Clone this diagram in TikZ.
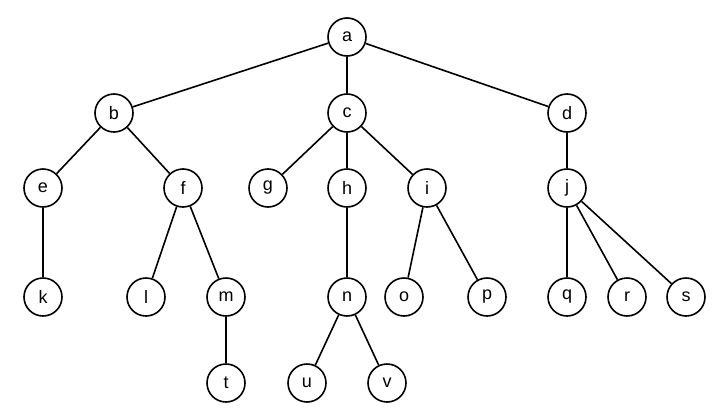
\documentclass[tikz,border=0pt]{standalone}
\usepackage{fontspec}
\setmainfont{Liberation Sans}
\begin{document}
\begin{tikzpicture}[x=1pt,y=-1pt,
  vtx/.style={circle,draw,line width=1.6pt,minimum size=38pt,inner sep=0pt,font=\fontsize{18}{20}\selectfont},
  edge/.style={line width=1.6pt}]
\useasboundingbox (0,0) rectangle (719,415);
\foreach \n/\x/\y in {a/347/37,b/114/113,c/347/113,d/567/113,e/43/188,f/183/188,g/268/188,h/347/188,i/427/188,j/567/188,k/43/297,l/146/297,m/226/297,n/347/297,o/404/297,p/487/297,q/567/297,r/627/297,s/686/297,t/226/383,u/307/383,v/387/383}
  \node[vtx] (\n) at (\x,\y) {\n};
\foreach \p/\c in {a/b,a/c,a/d,b/e,b/f,c/g,c/h,c/i,d/j,e/k,f/l,f/m,h/n,i/o,i/p,j/q,j/r,j/s,m/t,n/u,n/v}
  \draw[edge] (\p) -- (\c);
\end{tikzpicture}
\end{document}
